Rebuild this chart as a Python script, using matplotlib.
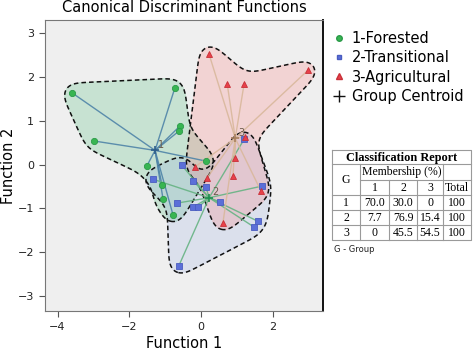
import numpy as np
import matplotlib
matplotlib.use("Agg")
import matplotlib.pyplot as plt
from matplotlib.path import Path
from matplotlib.lines import Line2D

# canonical scores
f_x = [-3.60, -0.73, -0.59, -0.61, -2.99, -1.51, -1.09, -1.06, -0.78, 0.14]
f_y = [1.64, 1.75, 0.88, 0.77, 0.54, -0.03, -0.46, -0.78, -1.15, 0.08]
t_x = [-0.54, -1.35, -0.22, 0.14, -0.68, -0.22, -0.08, 0.53, 1.70, 1.58, 1.47, -0.62, 1.21]
t_y = [-0.01, -0.33, -0.37, -0.52, -0.88, -0.97, -0.97, -0.85, -0.49, -1.29, -1.42, -2.31, 0.59]
a_x = [0.22, 0.73, 1.20, 2.99, 1.23, 0.95, 0.89, 0.17, 1.67, 0.61, -0.17]
a_y = [2.53, 1.84, 1.84, 2.16, 0.63, 0.15, -0.26, -0.30, -0.60, -1.33, -0.05]

# outline order (point indices) for each group
f_hull = [0, 1, 2, 3, 9, 8, 7, 6, 5, 4]
t_hull = [10, 11, 4, 1, 0, 2, 3, 12, 8, 9]
a_hull = [0, 2, 3, 4, 8, 9, 7, 10]

groups = ["1-Forested", "2-Transitional", "3-Agricultural"]
centroid_label = "Group Centroid"

# classification report
tab_groups = ["1", "2", "3"]
tab_cols = ["1", "2", "3", "Total"]
tab_vals = [["70.0", "30.0", "0", "100"],
            ["7.7", "76.9", "15.4", "100"],
            ["0", "45.5", "54.5", "100"]]

plt.rcParams["lines.dashed_pattern"] = [3.0, 2.0]

SY = 43.8 / 35.83  # y stretch so buffers look round on screen


def seg_dist(px, py, ax_, ay_, bx, by):
    dx, dy = bx - ax_, by - ay_
    t = ((px - ax_) * dx + (py - ay_) * dy) / (dx * dx + dy * dy)
    t = np.clip(t, 0, 1)
    return np.hypot(px - ax_ - t * dx, py - ay_ - t * dy)


def blob(xs, ys, order, X, Y, r=0.27, sig=15):
    vx = np.asarray(xs)[order]
    vy = np.asarray(ys)[order] * SY
    gy = Y * SY
    d = np.full(X.shape, np.inf)
    for i in range(len(vx)):
        j = (i + 1) % len(vx)
        d = np.minimum(d, seg_dist(X, gy, vx[i], vy[i], vx[j], vy[j]))
    pts = np.column_stack([X.ravel(), gy.ravel()])
    inside = Path(np.column_stack([vx, vy])).contains_points(pts).reshape(X.shape)
    d[inside] = 0
    m = (d < r).astype(float)
    k = np.exp(-0.5 * (np.arange(-3 * sig, 3 * sig + 1) / sig) ** 2)
    k /= k.sum()
    m = np.apply_along_axis(lambda v: np.convolve(v, k, mode="same"), 0, m)
    m = np.apply_along_axis(lambda v: np.convolve(v, k, mode="same"), 1, m)
    return m


fig = plt.figure(figsize=(4.74, 3.55), dpi=100)
ax = fig.add_axes([45 / 474, 1 - 311 / 355, 278 / 474, 291 / 355])
ax.set_facecolor("#efefef")

gx = np.linspace(-4.5, 3.5, 580)
gyy = np.linspace(-3.5, 3.4, 600)
X, Y = np.meshgrid(gx, gyy)

sets = [
    (f_x, f_y, f_hull, "#3cb46e", 0.22, "#4f84a8", "#2f5f8a", "o", "#38b552", "#2a9a48", 4.5, "1"),
    (t_x, t_y, t_hull, "#7a96e0", 0.17, "#66b383", "#1f8f4f", "s", "#5b6fd8", "#4a5cc0", 3.8, "2"),
    (a_x, a_y, a_hull, "#ff7070", 0.22, "#d9b89c", "#a8805f", "^", "#e8404a", "#c83038", 4.5, "3"),
]

for xs, ys, hull, fc, al, *_ in sets:
    m = blob(xs, ys, hull, X, Y)
    ax.contourf(X, Y, m, levels=[0.5, 2], colors=[fc], alpha=al, zorder=1)
    ax.contour(X, Y, m, levels=[0.5], colors="#111111", linewidths=1.1,
               linestyles="dashed", zorder=2)

for xs, ys, hull, fc, al, lc, cc, mk, mfc, mec, ms, lab in sets:
    cx, cy = np.mean(xs), np.mean(ys)
    for x, y in zip(xs, ys):
        ax.plot([cx, x], [cy, y], color=lc, lw=1.0, alpha=0.9, zorder=3)
    ax.plot(cx, cy, marker="+", color=cc, ms=6, mew=1.2, zorder=4)
    ax.text(cx + 0.08, cy + 0.06, lab, fontsize=7, color="#6a5a4a", zorder=4)
    ax.plot(xs, ys, ls="none", marker=mk, ms=ms, mfc=mfc, mec=mec, mew=0.6, zorder=5)

ax.set_xlim(-4.35, 3.4)
ax.set_ylim(-3.34, 3.3)
ax.set_xticks([-4, -2, 0, 2])
ax.set_yticks([-3, -2, -1, 0, 1, 2, 3])
ax.tick_params(direction="out", length=4, width=0.8, color="#555555",
               labelsize=8, labelcolor="#222222", pad=4)
for s in ["left", "bottom", "top"]:
    ax.spines[s].set_color("#777777")
    ax.spines[s].set_linewidth(0.8)
ax.spines["right"].set_color("#111111")
ax.spines["right"].set_linewidth(1.4)

ax.set_xlabel("Function 1", fontsize=10.5, labelpad=3)
ax.set_ylabel("Function 2", fontsize=10.5, labelpad=1)
fig.text(184 / 474, 1 - 12.5 / 355, "Canonical Discriminant Functions",
         ha="center", va="baseline", fontsize=10.5)

handles = [
    Line2D([], [], ls="none", marker="o", ms=4, mfc="#38b552", mec="#2a9a48"),
    Line2D([], [], ls="none", marker="s", ms=3.5, mfc="#5b6fd8", mec="#4a5cc0"),
    Line2D([], [], ls="none", marker="^", ms=4, mfc="#e8404a", mec="#c83038"),
    Line2D([], [], ls="none", marker="+", ms=9, mew=1.0, color="#111111"),
]
fig.legend(handles, groups + [centroid_label], loc="upper left",
           bbox_to_anchor=(327 / 474, 1 - 25 / 355), frameon=False,
           fontsize=10.5, handlelength=0.8, handletextpad=0.5,
           labelspacing=0.3, borderaxespad=0)

# classification report table, laid out in pixel units
tax = fig.add_axes([330 / 474, 1 - 262 / 355, 144 / 474, 114 / 355])
tax.set_xlim(330, 474)
tax.set_ylim(262, 148)
tax.axis("off")
lc = "#9a9a9a"
L, R, T, B = 332, 471, 150, 240
xs_v = [360, 389, 417, 443]
rows_y = [164, 180, 195, 210, 225]
tax.plot([L, R, R, L, L], [T, T, B, B, T], color=lc, lw=0.8)
tax.plot([L, R], [164, 164], color=lc, lw=0.8)
tax.plot([360, R], [180, 180], color=lc, lw=0.8)
for y in rows_y[2:]:
    tax.plot([L, R], [y, y], color=lc, lw=0.8)
tax.plot([360, 360], [164, B], color=lc, lw=0.8)
tax.plot([443, 443], [164, B], color=lc, lw=0.8)
for x in xs_v[1:3]:
    tax.plot([x, x], [180, B], color=lc, lw=0.8)

serif = "Liberation Serif"
tax.text((L + R) / 2, 157.5, "Classification Report", ha="center", va="center",
         fontsize=8.8, fontweight="bold", family=serif)
tax.text(346, 180, "G", ha="center", va="center", fontsize=8.5, family=serif)
tax.text(401.5, 172, "Membership (%)", ha="center", va="center", fontsize=8.5, family=serif)
col_c = [374.5, 403, 430, 457]
for c, t in zip(col_c, tab_cols):
    tax.text(c, 188, t, ha="center", va="center", fontsize=8.5, family=serif)
for i, (g, vals) in enumerate(zip(tab_groups, tab_vals)):
    yc = 203 + 15 * i
    tax.text(346, yc, g, ha="center", va="center", fontsize=8.5, family=serif)
    for c, v in zip(col_c, vals):
        tax.text(c, yc, v, ha="center", va="center", fontsize=8.5, family=serif)
tax.text(334, 250, "G - Group", ha="left", va="center", fontsize=6, color="#222222")

fig.savefig("out.png", dpi=100)
